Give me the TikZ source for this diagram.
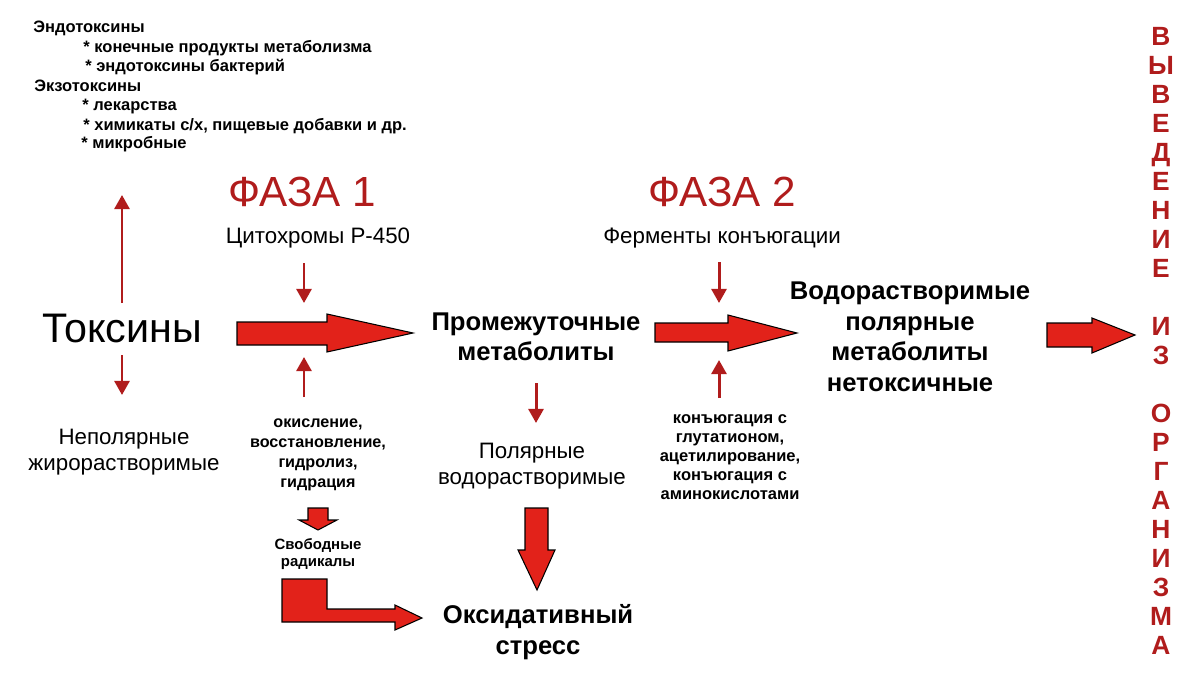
\documentclass[tikz,border=0pt]{standalone}
\usepackage{fontspec}
\setmainfont{Liberation Sans}
\usetikzlibrary{arrows.meta}
\definecolor{darkred}{RGB}{176,28,28}
\definecolor{arrowred}{RGB}{226,34,26}
\begin{document}
\begin{tikzpicture}[x=0.02cm, y=-0.02cm, inner sep=0,
	big/.style = {font=\fontsize{14.6}{17.4}\selectfont\bfseries, align=center},
	mid/.style = {font=\fontsize{12.7}{14.5}\selectfont, align=center},
	small/.style = {font=\fontsize{9.2}{11.3}\selectfont\bfseries, align=center},
	list/.style = {font=\fontsize{9.4}{11}\selectfont\bfseries, anchor=base west},
	phase/.style = {font=\fontsize{24}{28}\selectfont, text=darkred, anchor=base},
	exit/.style = {font=\fontsize{15}{16.5}\selectfont\bfseries, text=darkred, align=center},
	thin/.style = {draw=darkred, line width=1.7pt, -{Triangle[width=8.5pt, length=8pt]}},
	block/.style = {draw=black, fill=arrowred, line width=0.6pt}]
	\useasboundingbox (0,0) rectangle (1200,690);
	% sources of toxins
	\node[list] (endo) at (33,32) {Эндотоксины};
	\node[list] (endo1) at (83,52) {* конечные продукты метаболизма};
	\node[list] (endo2) at (85,71) {* эндотоксины бактерий};
	\node[list] (exo) at (34,91) {Экзотоксины};
	\node[list] (exo1) at (82,110) {* лекарства};
	\node[list] (exo2) at (83,130) {* химикаты с/х, пищевые добавки и др.};
	\node[list] (exo3) at (81,148) {* микробные};
	% phases
	\node[phase] (ph1) at (302,206) {ФАЗА 1};
	\node[phase] (ph2) at (722,206) {ФАЗА 2};
	\node[mid, anchor=base] (cyt) at (318,243) {Цитохромы Р-450};
	\node[mid, anchor=base] (enz) at (722,243) {Ферменты конъюгации};
	% main line
	\node[font=\fontsize{23.5}{26}\selectfont, anchor=base west] (tox) at (42,342) {Токсины};
	\node[big] (inter) at (536,337) {Промежуточные\\метаболиты};
	\node[big] (water) at (910,337) {Водорастворимые\\полярные\\метаболиты\\нетоксичные};
	\node[mid] (nonpol) at (124,452) {Неполярные\\жирорастворимые};
	\node[mid] (polar) at (532,466) {Полярные\\водорастворимые};
	\node[small] (react1) at (318,455) {окисление,\\восстановление,\\гидролиз,\\гидрация};
	\node[small, font=\fontsize{9.4}{10.9}\selectfont\bfseries] (react2) at (730,457) {конъюгация с\\глутатионом,\\ацетилирование,\\конъюгация с\\аминокислотами};
	\node[small, font=\fontsize{8.5}{10}\selectfont\bfseries] (rad) at (318,554) {Свободные\\радикалы};
	\node[big] (stress) at (538,632) {Оксидативный\\стресс};
	\node[exit] (out) at (1161,341) {В\\Ы\\В\\Е\\Д\\Е\\Н\\И\\Е\\[16.5pt]И\\З\\[16.5pt]О\\Р\\Г\\А\\Н\\И\\З\\М\\А};
	% block arrows
	\draw[block] (237,322) -- (327,322) -- (327,314) -- (413,333) -- (327,352) -- (327,345) -- (237,345) -- cycle;
	\draw[block] (655,323) -- (728,323) -- (728,315) -- (797,333) -- (728,351) -- (728,342) -- (655,342) -- cycle;
	\draw[block] (1047,323) -- (1092,323) -- (1092,318) -- (1135,335) -- (1092,353) -- (1092,347) -- (1047,347) -- cycle;
	\draw[block] (308,508) -- (328,508) -- (328,520) -- (337,520) -- (318,530) -- (299,520) -- (308,520) -- cycle;
	\draw[block] (525,508) -- (548,508) -- (548,550) -- (555,550) -- (537,590) -- (518,550) -- (525,550) -- cycle;
	\draw[block] (282,579) -- (327,579) -- (327,609) -- (395,609) -- (395,605) -- (422,618) -- (395,630) -- (395,622) -- (282,622) -- cycle;
	% thin arrows
	\coordinate (t1) at (122,303); \coordinate (t2) at (122,195);
	\coordinate (t3) at (122,355); \coordinate (t4) at (122,395);
	\coordinate (c1) at (304,263); \coordinate (c2) at (304,303);
	\coordinate (c3) at (304,397); \coordinate (c4) at (304,357);
	\coordinate (m1) at (536,383); \coordinate (m2) at (536,423);
	\coordinate (e1) at (719,262); \coordinate (e2) at (719,303);
	\coordinate (e3) at (719,398); \coordinate (e4) at (719,360);
	\draw[thin] (t1) -- (t2);
	\draw[thin] (t3) -- (t4);
	\draw[thin] (c1) -- (c2);
	\draw[thin] (c3) -- (c4);
	\draw[thin] (m1) -- (m2);
	\draw[thin] (e1) -- (e2);
	\draw[thin] (e3) -- (e4);
\end{tikzpicture}
\end{document}
